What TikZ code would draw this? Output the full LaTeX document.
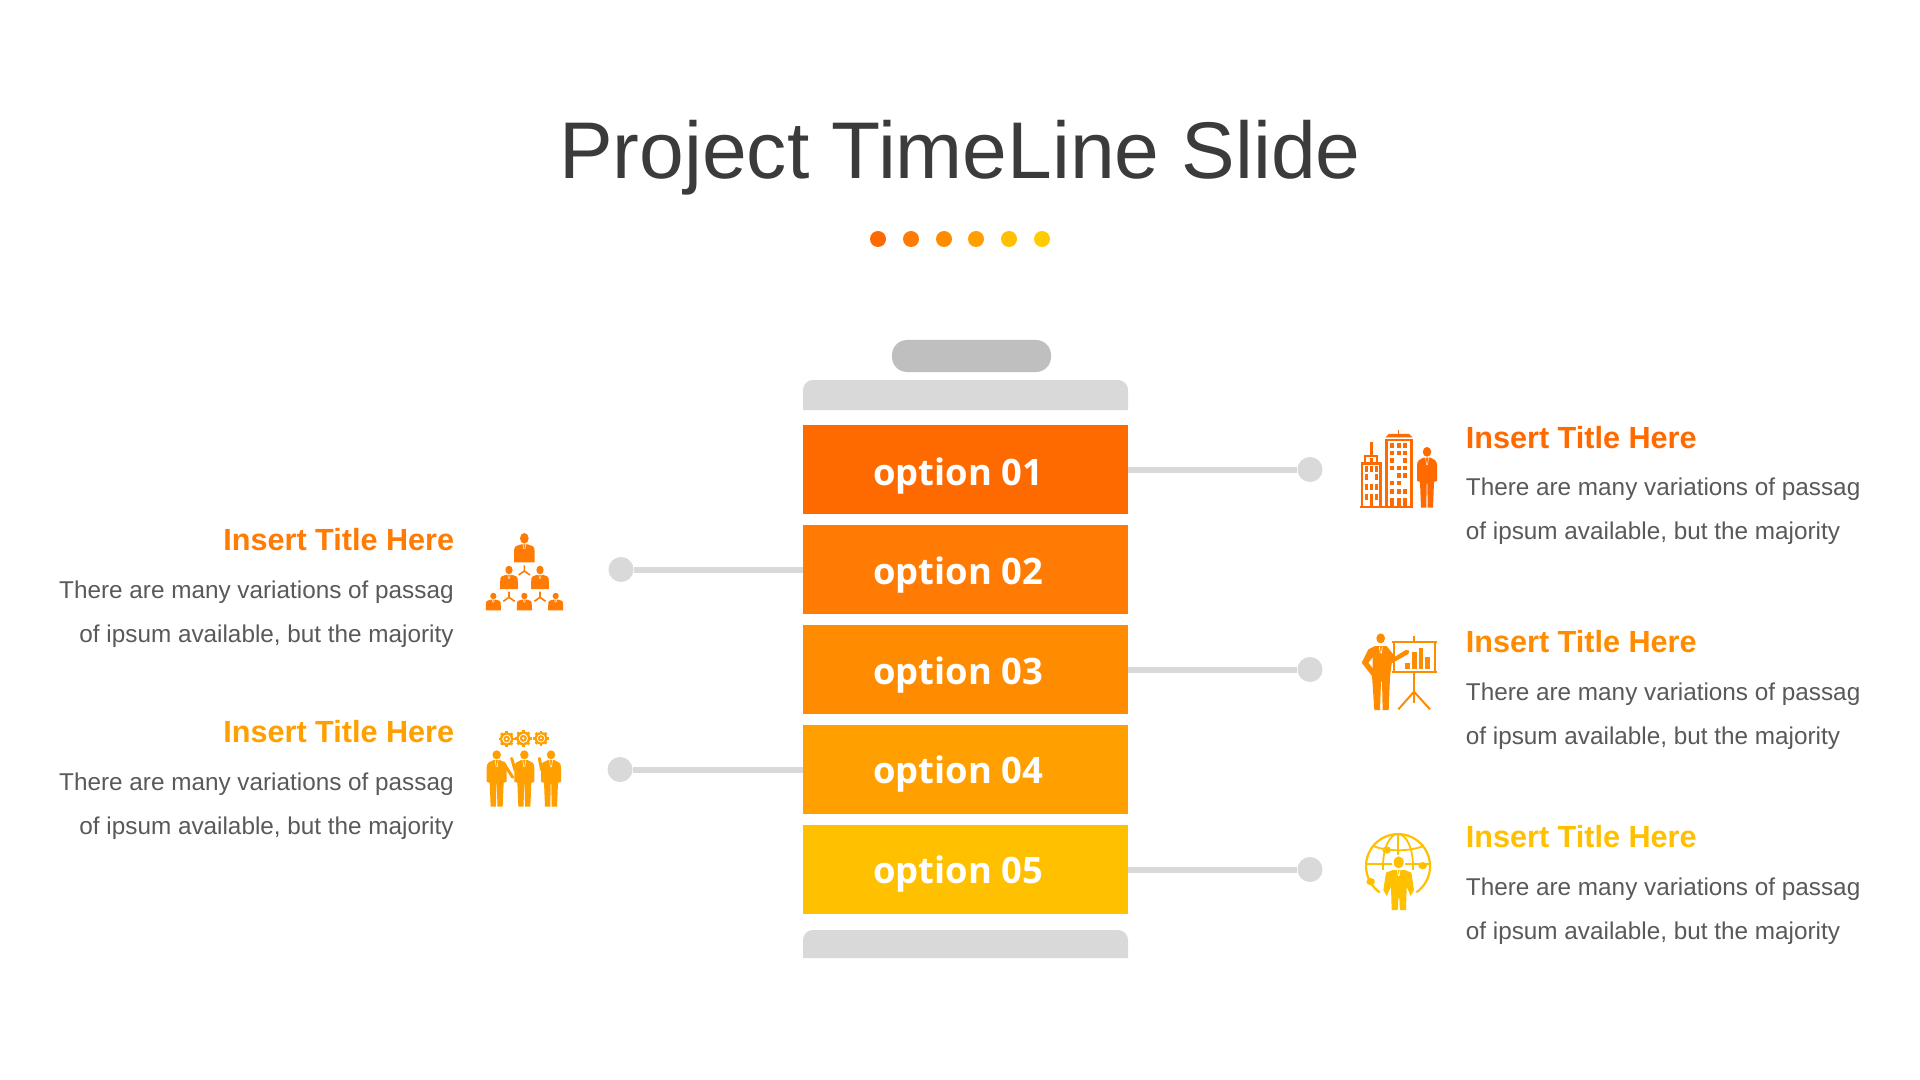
\documentclass[tikz,border=0pt]{standalone}
\usepackage{fontspec}
\setmainfont{Liberation Sans}
\newfontfamily\optfont{Open Sans}
\newlength{\du}
\setlength{\du}{0.5pt}
\definecolor{coltitle}{HTML}{3B3B3B}
\definecolor{colbody}{HTML}{595959}
\definecolor{colcap}{HTML}{D9D9D9}
\definecolor{colpill}{HTML}{BFBFBF}
\definecolor{colone}{HTML}{FF6A00}
\definecolor{coltwo}{HTML}{FF7B03}
\definecolor{colthree}{HTML}{FF8C00}
\definecolor{colfour}{HTML}{FF9F00}
\definecolor{colfive}{HTML}{FFC000}
\definecolor{colsix}{HTML}{FFCC00}
\tikzset{
  band/.style={fill=#1,minimum width=325\du,minimum height=89\du,inner sep=0pt},
  optlabel/.style={text=white,font=\optfont\bfseries\fontsize{18.2}{24}\selectfont,inner sep=0pt},
  headtitle/.style={text=coltitle,font=\fontsize{40.2}{48}\selectfont,inner sep=0pt},
  tinydot/.style={circle,fill=#1,minimum size=16\du,inner sep=0pt},
  enddot/.style={circle,fill=colcap,minimum size=25\du,inner sep=0pt},
  optline/.style={draw=colcap,line width=6\du},
  itemtitle/.style={text=#1,font=\bfseries\fontsize{15.3}{20}\selectfont,inner sep=0pt},
  itembody/.style={text=colbody,font=\fontsize{12.15}{16}\selectfont,inner sep=0pt},
  icon/.style={shift={(#1)},x=\du/3,y=\du/3},
}
% standing man, head on top, local height 100
\newcommand{\manicon}[4]{
\begin{scope}[shift={(#1,#2)},xscale=#3,yscale=#4]
\fill (0,8.5) ellipse (8.5 and 8);
\fill (-7,18)--(-16,22)..controls (-19,24) and (-20,27)..(-20,31)--(-20,56)--(-14,58)--(-12,100)--(-1.5,100)--(-0.5,60)--(0.5,60)--(1.5,100)--(12,100)--(14,58)--(20,56)--(20,31)..controls (20,27) and (19,24)..(16,22)--(7,18)--cycle;
\draw[white,line width=0.5\du] (-3,18)--(-1,30) (3,18)--(1,30);
\end{scope}
}
% head and shoulders
\newcommand{\busticon}[4]{
\begin{scope}[shift={(#1,#2)},xscale=#3,yscale=#4]
\fill (0,0) ellipse (13 and 16);
\fill (-10,18)--(-26,24)..controls (-30,27) and (-31,32)..(-31,45)--(-31,72)--(31,72)--(31,45)..controls (31,32) and (30,27)..(26,24)--(10,18)--cycle;
\draw[white,line width=0.5\du] (-4,18)--(-1.5,32) (4,18)--(1.5,32);
\end{scope}
}
\newcommand{\forkicon}[3]{
\draw[line width=1.6\du] (#1,#2)--(#1,#2-#3) (#1,#2)--(#1-#3,#2+0.7*#3) (#1,#2)--(#1+#3,#2+0.7*#3);
}
\newcommand{\gearicon}[3]{
\foreach \a in {0,45,...,315}{\fill[rotate around={\a:(#1,#2)}] (#1-4,#2-#3-4) rectangle (#1+4,#2-#3+6);}
\fill[even odd rule] (#1,#2) circle (#3) (#1,#2) circle (#3*0.68);
\fill[even odd rule] (#1,#2) circle (#3*0.5) (#1,#2) circle (#3*0.22);
}
\begin{document}
\begin{tikzpicture}
\pgftransformxscale{1.000000}
\pgftransformyscale{-1.000000}
\useasboundingbox (0\du,0\du) rectangle (1920\du,1080\du);
\fill[white] (0\du,0\du) rectangle (1920\du,1080\du);
\node[headtitle] (title) at (960\du,158\du){Project TimeLine Slide};
% dots under the title
\node[tinydot=colone] (dot1) at (878\du,239\du){};
\node[tinydot=coltwo] (dot2) at (911\du,239\du){};
\node[tinydot=colthree] (dot3) at (944\du,239\du){};
\node[tinydot=colfour] (dot4) at (976\du,239\du){};
\node[tinydot=colfive] (dot5) at (1009\du,239\du){};
\node[tinydot=colsix] (dot6) at (1042\du,239\du){};
% battery
\fill[colpill,rounded corners=15\du] (892\du,340\du) rectangle (1051\du,372\du);
\fill[colcap] (803\du,410\du) [rounded corners=10\du] -- (803\du,380\du) -- (1128\du,380\du) [sharp corners] -- (1128\du,410\du) -- cycle;
\fill[colcap] (803\du,958\du) [rounded corners=10\du] -- (803\du,930\du) -- (1128\du,930\du) [sharp corners] -- (1128\du,958\du) -- cycle;
\node[band=colone] (band1) at (965.5\du,469.5\du){};
\node[band=coltwo] (band2) at (965.5\du,569.5\du){};
\node[band=colthree] (band3) at (965.5\du,669.5\du){};
\node[band=colfour] (band4) at (965.5\du,769.5\du){};
\node[band=colfive] (band5) at (965.5\du,869.5\du){};
\node[optlabel] (label1) at (958\du,476\du){option 01};
\node[optlabel] (label2) at (958\du,575\du){option 02};
\node[optlabel] (label3) at (958\du,675\du){option 03};
\node[optlabel] (label4) at (958\du,774\du){option 04};
\node[optlabel] (label5) at (958\du,874\du){option 05};
% connectors
\node[enddot] (end1) at (1310\du,469.5\du){};
\node[enddot] (end2) at (621\du,569.5\du){};
\node[enddot] (end3) at (1310\du,669.5\du){};
\node[enddot] (end4) at (620\du,769.5\du){};
\node[enddot] (end5) at (1310\du,869.5\du){};
\draw[optline] (band1) -- (end1);
\draw[optline] (band2) -- (end2);
\draw[optline] (band3) -- (end3);
\draw[optline] (band4) -- (end4);
\draw[optline] (band5) -- (end5);
% right texts
\node[itemtitle=colone,anchor=base west] (rtitle1) at (1465.5\du,448\du){Insert Title Here};
\node[itembody,anchor=base west] (rbody1a) at (1465.5\du,495.5\du){There are many variations of passag};
\node[itembody,anchor=base west] (rbody1b) at (1465.5\du,539.5\du){of ipsum available, but the majority};
\node[itemtitle=colthree,anchor=base west] (rtitle2) at (1465.5\du,652\du){Insert Title Here};
\node[itembody,anchor=base west] (rbody2a) at (1465.5\du,700\du){There are many variations of passag};
\node[itembody,anchor=base west] (rbody2b) at (1465.5\du,744\du){of ipsum available, but the majority};
\node[itemtitle=colfive,anchor=base west] (rtitle3) at (1465.5\du,847\du){Insert Title Here};
\node[itembody,anchor=base west] (rbody3a) at (1465.5\du,895\du){There are many variations of passag};
\node[itembody,anchor=base west] (rbody3b) at (1465.5\du,939\du){of ipsum available, but the majority};
% left texts
\node[itemtitle=coltwo,anchor=base east] (ltitle1) at (454.5\du,550.5\du){Insert Title Here};
\node[itembody,anchor=base east] (lbody1a) at (454\du,598\du){There are many variations of passag};
\node[itembody,anchor=base east] (lbody1b) at (454\du,642\du){of ipsum available, but the majority};
\node[itemtitle=colfour,anchor=base east] (ltitle2) at (454.5\du,742.5\du){Insert Title Here};
\node[itembody,anchor=base east] (lbody2a) at (454\du,790\du){There are many variations of passag};
\node[itembody,anchor=base east] (lbody2b) at (454\du,834\du){of ipsum available, but the majority};
% buildings
\begin{scope}[icon={1340\du,410\du},colone]
\draw[line width=2.4\du] (60,291)--(218,291);
\draw[line width=2.6\du] (140,291)--(140,90)--(215,90)--(215,291);
\draw[line width=2.6\du] (66,291)--(66,160)--(121,160)--(121,291);
\fill (147,72)--(207,72)--(218,82)--(136,82)--cycle;
\fill (173,60) rectangle (178,72);
\fill (90,97) rectangle (98,135);
\draw[line width=2\du] (76,160)--(76,137)--(112,137)--(112,160);
\fill (90,270) rectangle (98,291);
\foreach \yy/\xx in {100/150,100/171,100/190,122/150,122/171,122/190,145/150,145/190,168/150,168/171,168/190,190/171,190/190,213/150,213/171,238/150,238/171,238/190}{\fill (\xx,\yy) rectangle (\xx+12,\yy+13);}
\foreach \xx in {150,171,190}{\fill (\xx,263) rectangle (\xx+12,289);}
\foreach \yy in {168,192,222,252}{\fill (75,\yy) rectangle (84,\yy+18);\fill (104,\yy) rectangle (113,\yy+18);}
\foreach \yy in {145,168,222,252}{\fill (90,\yy) rectangle (98,\yy+18);}
\manicon{261}{110}{1.5}{1.83}
\end{scope}
% presenter
\begin{scope}[icon={1340\du,620\du},colthree]
\fill (122,55) ellipse (13 and 15);
\fill (105,78)--(85,88)--(65,128)--(96,168)--(103,270)--(120,270)--(123,185)--(126,185)--(128,270)--(146,270)--(150,170)--(155,130)--(205,102)--(208,92)--(197,90)--(165,110)--(140,78)--cycle;
\fill[white] (98,112)--(86,128)--(98,144)--cycle;
\draw[white,line width=0.7\du] (118,80)--(121,100) (127,80)--(124,100);
\fill (155,62) rectangle (290,70);
\fill (155,152) rectangle (290,159);
\fill (160,70) rectangle (165,152);
\fill (282,70) rectangle (288,152);
\fill (218,48) rectangle (226,62);
\fill (195,128) rectangle (210,147);
\fill (216,97) rectangle (231,147);
\fill (236,83) rectangle (250,147);
\fill (255,110) rectangle (270,147);
\fill (218,159) rectangle (226,250);
\draw[line width=2\du] (222,215)--(175,268) (222,215)--(270,268);
\end{scope}
% globe
\begin{scope}[icon={1340\du,820\du},colfive]
\draw[line width=2.2\du] (119,217) arc[start angle=125,end angle=415,radius=96];
\draw[line width=1.8\du] (174,138) ellipse (45 and 96);
\draw[line width=1.8\du] (174,42)--(174,130);
\draw[line width=1.8\du] (78,131)--(268,131);
\draw[line width=1.8\du] (100,78)..controls (140,95) and (210,95)..(250,78);
\fill (140,90) ellipse (13 and 11);
\fill (248,137) ellipse (13 and 11);
\fill (92,185) ellipse (13 and 11);
\fill[white] (176,127) ellipse (20 and 23);
\fill[white] (125,150) rectangle (225,275);
\fill (176,127) ellipse (15 and 18);
\fill (158,150)--(138,158)--(130,210)--(140,228)--(153,200)--(155,270)--(173,270)--(175,235)--(178,235)--(180,270)--(198,270)--(200,200)--(212,228)--(222,210)--(214,158)--(194,150)--cycle;
\draw[white,line width=0.7\du] (172,150)--(175,168) (180,150)--(177,168);
\end{scope}
% org pyramid
\begin{scope}[icon={470\du,520\du},coltwo]
\busticon{163}{55}{1}{1}
\busticon{117}{150}{0.85}{0.8}
\busticon{210}{150}{0.85}{0.8}
\busticon{70}{228}{0.72}{0.6}
\busticon{163}{228}{0.72}{0.6}
\busticon{257}{228}{0.72}{0.6}
\forkicon{163}{153}{17}
\forkicon{117}{232}{17}
\forkicon{210}{232}{17}
\end{scope}
% team with gears
\begin{scope}[icon={470\du,720\du},colfour]
\gearicon{110}{57}{20}
\gearicon{160}{55}{21}
\gearicon{213}{55}{19}
\manicon{80}{90}{1.5}{1.7}
\manicon{163}{90}{1.5}{1.7}
\manicon{243}{90}{1.5}{1.7}
\draw[line width=3\du,line cap=round] (100,128)--(128,172);
\draw[line width=3\du,line cap=round] (135,150)--(125,115);
\draw[line width=3\du,line cap=round] (215,150)--(208,115);
\end{scope}
\end{tikzpicture}
\end{document}
